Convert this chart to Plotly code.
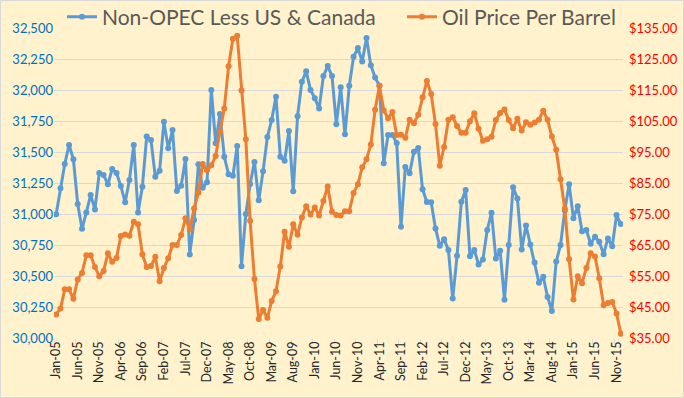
import pandas as pd
import plotly.graph_objects as go

months = list(pd.date_range("2005-01-01", periods=132, freq="MS").strftime("%b-%y"))

tick_labels = ["Jan-05", "Jun-05", "Nov-05", "Apr-06", "Sep-06", "Feb-07", "Jul-07",
               "Dec-07", "May-08", "Oct-08", "Mar-09", "Aug-09", "Jan-10", "Jun-10",
               "Nov-10", "Apr-11", "Sep-11", "Feb-12", "Jul-12", "Dec-12", "May-13",
               "Oct-13", "Mar-14", "Aug-14", "Jan-15", "Jun-15", "Nov-15"]

non_opec = [
    30997, 31207, 31403, 31557, 31441, 31080, 30881, 31013, 31153, 31037, 31331, 31315,
    31239, 31363, 31331, 31226, 31094, 31274, 31557, 31013, 31220, 31624, 31597, 31301,
    31349, 31743, 31530, 31678, 31185, 31228, 31444, 30674, 30951, 31401, 31212, 31256,
    32001, 31571, 31807, 31462, 31320, 31309, 31549, 30579, 30999, 31242, 31420, 31110,
    31344, 31620, 31759, 31945, 31462, 31429, 31670, 31183, 31789, 32066, 32152, 32001,
    31934, 31850, 32112, 32193, 32112, 31724, 32022, 31643, 32034, 32268, 32338, 32230,
    32419, 32199, 32100, 32034, 31409, 31638, 31638, 31573, 30897, 31379, 31328, 31503,
    31533, 31199, 31096, 31094, 30884, 30743, 30797, 30709, 30318, 30663, 31099, 31193,
    30660, 30709, 30593, 30633, 30870, 31010, 30642, 30703, 30308, 30749, 31215, 31126,
    30714, 30907, 30755, 30609, 30446, 30493, 30331, 30218, 30617, 30749, 31028, 31240,
    30965, 31062, 30860, 30870, 30760, 30816, 30776, 30676, 30803, 30739, 30991, 30919,
]

oil_price = [
    42.6, 44.5, 50.7, 50.7, 47.7, 53.9, 56.0, 61.7, 61.7, 57.9, 54.9, 56.6,
    62.3, 59.6, 60.8, 67.9, 68.4, 68.0, 72.5, 71.7, 62.0, 57.9, 58.2, 61.2,
    53.3, 57.6, 60.7, 65.0, 65.0, 68.2, 73.6, 70.0, 76.8, 81.9, 91.1, 89.1,
    90.7, 93.7, 101.6, 109.0, 122.7, 131.5, 132.5, 114.8, 99.1, 72.8, 54.0, 41.1,
    44.0, 41.5, 46.9, 50.1, 58.1, 69.3, 64.4, 71.7, 68.3, 73.9, 77.5, 74.8,
    77.1, 74.5, 79.2, 83.9, 75.7, 74.7, 74.5, 75.9, 75.9, 81.8, 84.6, 90.1,
    92.7, 97.4, 108.6, 116.4, 108.4, 105.9, 107.9, 100.5, 100.6, 99.6, 105.4, 104.3,
    107.0, 112.7, 117.9, 113.7, 104.0, 90.6, 96.6, 105.4, 106.2, 103.4, 101.2, 101.2,
    104.9, 107.5, 102.5, 98.6, 99.1, 99.9, 105.3, 107.6, 108.7, 105.3, 102.7, 105.7,
    101.9, 104.6, 103.8, 104.5, 105.4, 108.3, 105.4, 100.0, 95.7, 86.2, 76.8, 60.4,
    47.4, 54.9, 52.7, 57.6, 62.3, 61.3, 54.3, 45.6, 46.3, 46.6, 42.9, 36.4,
]

BLUE = "#5B9BD5"
ORANGE = "#ED7D31"
BG = "#FFF2CC"
GRID = "#D9D9D9"
FONT = "Lato, Liberation Sans, sans-serif"

fig = go.Figure()
fig.add_trace(go.Scatter(
    x=months, y=non_opec, name="Non-OPEC Less US & Canada",
    mode="lines+markers", line=dict(color=BLUE, width=3),
    marker=dict(color=BLUE, size=6), yaxis="y", legend="legend"))
fig.add_trace(go.Scatter(
    x=months, y=oil_price, name="Oil Price Per Barrel",
    mode="lines+markers", line=dict(color=ORANGE, width=3),
    marker=dict(color=ORANGE, size=6), yaxis="y2", legend="legend2"))

L, R, T, B = 54, 61, 28, 60
W, H = 684, 398
pw, ph = W - L - R, H - T - B

leg_common = dict(orientation="h", xref="container", yref="container",
                  xanchor="left", y=(H - 17) / H, yanchor="middle",
                  font=dict(size=21, color="#595959", family=FONT),
                  bgcolor="rgba(0,0,0,0)", itemwidth=30)

fig.update_layout(
    width=W, height=H,
    margin=dict(l=L, r=R, t=T, b=B, pad=0, autoexpand=False),
    paper_bgcolor=BG, plot_bgcolor=BG,
    font=dict(family=FONT, color="#262626"),
    showlegend=True,
    legend=dict(x=62 / W, **leg_common),
    legend2=dict(x=402 / W, **leg_common),
    xaxis=dict(type="category", categoryorder="array", categoryarray=months,
               range=[-0.5, len(months) - 0.5],
               tickmode="array", tickvals=tick_labels, ticktext=tick_labels,
               tickangle=-90, tickfont=dict(size=12.5, color="#262626"),
               ticks="outside", ticklen=5, tickcolor=GRID, tickson="boundaries",
               showgrid=False, showline=False, zeroline=False, automargin=False),
    yaxis=dict(range=[30000, 32500], dtick=250, tickformat=",",
               tickfont=dict(size=13, color="#0070C0"),
               showgrid=True, gridcolor=GRID, gridwidth=1,
               zeroline=False, showline=False, ticks="", automargin=False),
    yaxis2=dict(range=[35, 135], tick0=35, dtick=10, tickprefix="$", tickformat=".2f",
                tickfont=dict(size=13, color="#FF0000"), ticklabelstandoff=5,
                overlaying="y", side="right", showgrid=False,
                zeroline=False, showline=False, ticks="", automargin=False),
    shapes=[dict(type="rect", xref="paper", yref="paper",
                 x0=(0.5 - L) / pw, x1=(W - 0.5 - L) / pw,
                 y0=(H - B - (H - 0.5)) / ph, y1=(H - B - 0.5) / ph,
                 line=dict(color=GRID, width=1), layer="below")],
)

fig.write_html("out.html", config={"displayModeBar": False},
               post_script="document.body.style.margin='0';document.body.style.padding='0';")
